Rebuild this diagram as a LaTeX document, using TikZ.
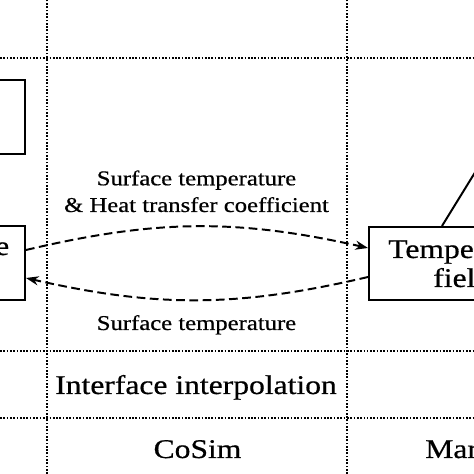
\documentclass[tikz,border=0pt]{standalone}
\usepackage{fontspec}
\setmainfont{Liberation Serif}[FakeStretch=1.17, FakeBold=0.6]
\usetikzlibrary{arrows.meta,calc,positioning}

\tikzset{
  box/.style={draw, line width=1.4pt, inner sep=0pt},
  grid line/.style={line width=1.2pt, dash pattern=on 1.2pt off 1.15pt},
  link/.style={line width=1.4pt, dash pattern=on 6.2pt off 3.2pt, -{Stealth[length=9pt,width=6.5pt]}},
  small/.style={font=\fontsize{15}{19}\selectfont, inner sep=0pt},
  big/.style={font=\fontsize{19.2}{24}\selectfont, inner sep=0pt},
}

\begin{document}
\begin{tikzpicture}[x=0.025cm, y=0.025cm]
        % frame
        \useasboundingbox (0,0) rectangle (474,474);
        \clip (0,0) rectangle (474,474);
        % dotted grid
        \draw[grid line] (47,0) -- (47,474);
        \draw[grid line] (347,0) -- (347,474);
        \draw[grid line] (0,416) -- (474,416);
        \draw[grid line] (0,123) -- (474,123);
        \draw[grid line] (0,56) -- (474,56);
        % boxes
        \node[box, minimum width=2.125cm, minimum height=1.85cm] (upper) at (-17.5,357) {};
        \node[box, minimum width=2.125cm, minimum height=1.85cm] (solver) at (-17.5,211) {};
        \node[box, minimum width=4.775cm, minimum height=1.825cm] (field) at (464.5,210.5) {};
        \node[big, anchor=base east] (solvertext) at (9.5,219) {e};
        \node[big, anchor=base west] (fieldtop) at (388,216) {Temper};
        \node[big, anchor=base west] (fieldbottom) at (433,187) {fiel};
        \coordinate (fieldlink) at (503,347);
        \draw[line width=1.4pt] ($(field.north west)+(74,0)$) -- (fieldlink);
        % exchanged quantities
        \draw[link] ($(solver.east)+(0,13)$) to[bend left=13] ($(field.west)+(0,15.5)$);
        \draw[link] ($(field.west)+(0,-13.5)$) to[bend left=13] ($(solver.east)+(0,-15)$);
        \node[small, align=center, anchor=base] (sendlabel) at (196.5,262) {Surface temperature\\\& Heat transfer coefficient};
        \node[small, anchor=base] (returnlabel) at (196.5,144) {Surface temperature};
        % rows
        \node[big, anchor=base] (interp) at (196,80) {Interface interpolation};
        \node[big, anchor=base] (cosim) at (197.5,16) {CoSim};
        \node[big, anchor=base west] (mar) at (425,16) {Mar};
\end{tikzpicture}
\end{document}
